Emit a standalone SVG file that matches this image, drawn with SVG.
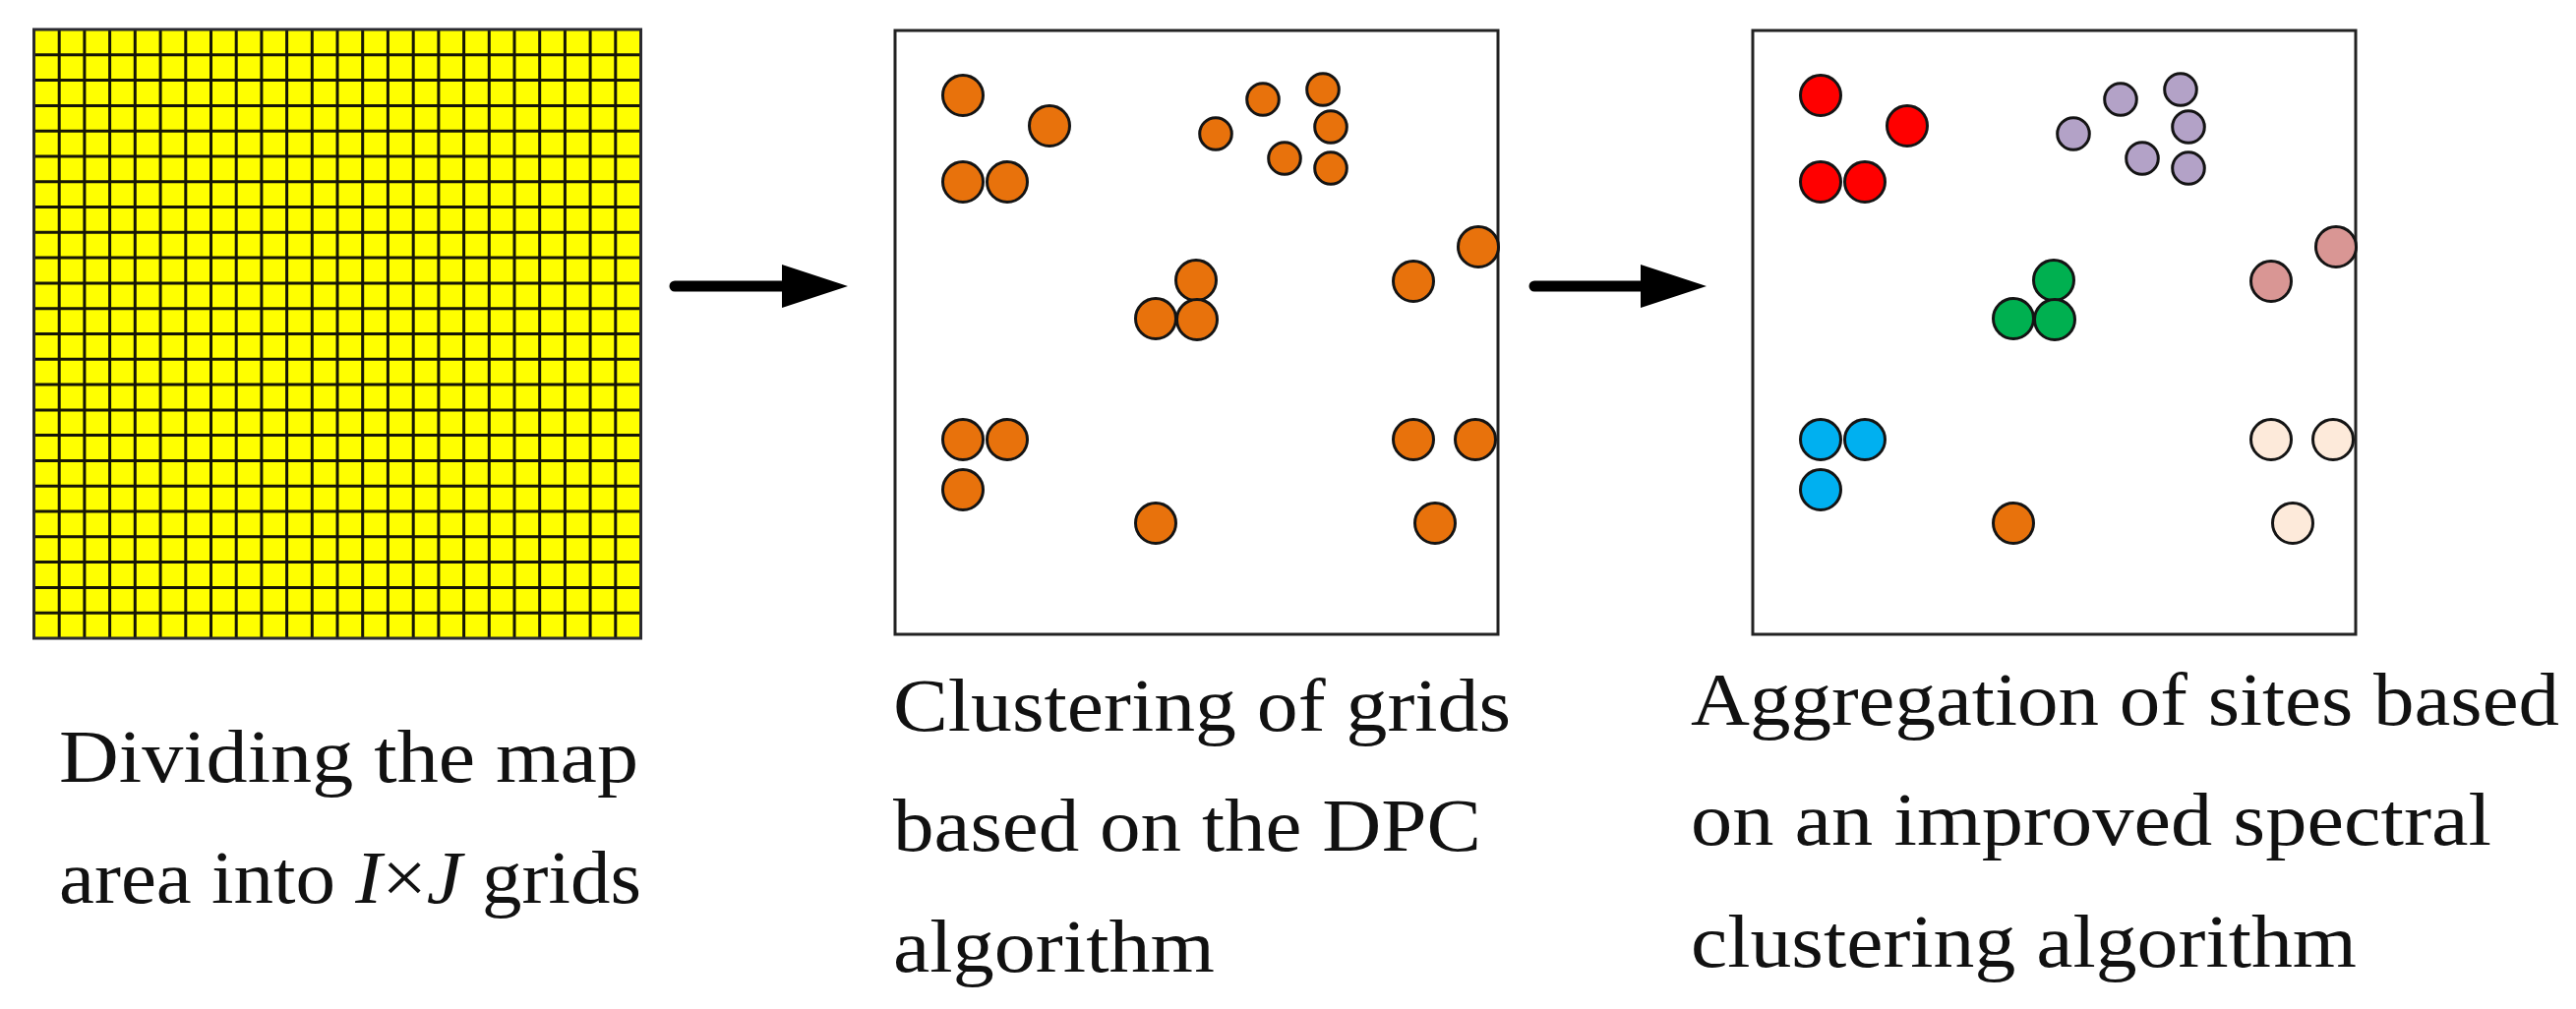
<svg xmlns="http://www.w3.org/2000/svg" width="2619" height="1026" viewBox="0 0 2619 1026">
<style>
.lbl{font-family:"Liberation Serif","Times New Roman",serif;font-size:77px;fill:#111}
.box{fill:#fff;stroke:#222;stroke-width:3}
.c{stroke:#141414;stroke-width:3}
.or{fill:#E8720C}.rd{fill:#FF0000}.pu{fill:#B3A2C7}.pk{fill:#D99694}.gr{fill:#00B050}.bl{fill:#00B0F0}.cr{fill:#FDEADA}
.gl{fill:none;stroke:#161606;stroke-width:3}
.conn{stroke:#000;stroke-width:11;stroke-linecap:round;fill:none}
</style>
<defs>
<marker id="ah" markerUnits="userSpaceOnUse" markerWidth="68" markerHeight="44" refX="0" refY="22" orient="auto">
<path d="M0,0 L67,22 L0,44 Z" fill="#000"/>
</marker>
</defs>
<rect width="2619" height="1026" fill="#fff"/>

<g id="grid-map">
<rect x="34.5" y="30" width="617" height="619" fill="#FFFF00"/>
<path class="gl" d="M60.2 30V649M85.9 30V649M111.6 30V649M137.3 30V649M163.1 30V649M188.8 30V649M214.5 30V649M240.2 30V649M265.9 30V649M291.6 30V649M317.3 30V649M343 30V649M368.7 30V649M394.4 30V649M420.2 30V649M445.9 30V649M471.6 30V649M497.3 30V649M523 30V649M548.7 30V649M574.4 30V649M600.1 30V649M625.8 30V649M34.5 55.8H651.5M34.5 81.6H651.5M34.5 107.4H651.5M34.5 133.2H651.5M34.5 159H651.5M34.5 184.7H651.5M34.5 210.5H651.5M34.5 236.3H651.5M34.5 262.1H651.5M34.5 287.9H651.5M34.5 313.7H651.5M34.5 339.5H651.5M34.5 365.3H651.5M34.5 391.1H651.5M34.5 416.9H651.5M34.5 442.6H651.5M34.5 468.4H651.5M34.5 494.2H651.5M34.5 520H651.5M34.5 545.8H651.5M34.5 571.6H651.5M34.5 597.4H651.5M34.5 623.2H651.5"/>
<rect x="34.5" y="30" width="617" height="619" fill="none" stroke="#2a2a30" stroke-width="3"/>
<text class="lbl" x="60" y="795" textLength="589" lengthAdjust="spacingAndGlyphs">Dividing the map</text>
<text class="lbl" x="60" y="918" textLength="592" lengthAdjust="spacingAndGlyphs">area into <tspan font-style="italic">I</tspan>×<tspan font-style="italic">J</tspan> grids</text>
</g>

<g id="dpc-clustering">
<rect class="box" x="910" y="31" width="613" height="614"/>
<g class="c or">
<circle cx="979" cy="97" r="20.5"/>
<circle cx="1067" cy="128" r="20.5"/>
<circle cx="979" cy="185" r="20.5"/>
<circle cx="1024" cy="185" r="20.5"/>
<circle cx="1236" cy="136" r="16.3"/>
<circle cx="1284" cy="101" r="16.3"/>
<circle cx="1345" cy="91" r="16.3"/>
<circle cx="1353" cy="129" r="16.3"/>
<circle cx="1306" cy="161" r="16.3"/>
<circle cx="1353" cy="171" r="16.3"/>
<circle cx="1503" cy="251" r="20.5"/>
<circle cx="1437" cy="286" r="20.5"/>
<circle cx="1216" cy="285" r="20.5"/>
<circle cx="1175" cy="324" r="20.5"/>
<circle cx="1217" cy="325" r="20.5"/>
<circle cx="979" cy="447" r="20.5"/>
<circle cx="1024" cy="447" r="20.5"/>
<circle cx="979" cy="498" r="20.5"/>
<circle cx="1175" cy="532" r="20.5"/>
<circle cx="1437" cy="447" r="20.5"/>
<circle cx="1500" cy="447" r="20.5"/>
<circle cx="1459" cy="532" r="20.5"/>
</g>
<text class="lbl" x="908" y="743" textLength="628" lengthAdjust="spacingAndGlyphs">Clustering of grids</text>
<text class="lbl" x="908" y="865" textLength="598" lengthAdjust="spacingAndGlyphs">based on the DPC</text>
<text class="lbl" x="908" y="988" textLength="327" lengthAdjust="spacingAndGlyphs">algorithm</text>
</g>

<g id="spectral-aggregation">
<rect class="box" x="1782" y="31" width="613" height="614"/>
<g class="c">
<circle class="rd" cx="1851" cy="97" r="20.5"/>
<circle class="rd" cx="1939" cy="128" r="20.5"/>
<circle class="rd" cx="1851" cy="185" r="20.5"/>
<circle class="rd" cx="1896" cy="185" r="20.5"/>
<circle class="pu" cx="2108" cy="136" r="16.3"/>
<circle class="pu" cx="2156" cy="101" r="16.3"/>
<circle class="pu" cx="2217" cy="91" r="16.3"/>
<circle class="pu" cx="2225" cy="129" r="16.3"/>
<circle class="pu" cx="2178" cy="161" r="16.3"/>
<circle class="pu" cx="2225" cy="171" r="16.3"/>
<circle class="pk" cx="2375" cy="251" r="20.5"/>
<circle class="pk" cx="2309" cy="286" r="20.5"/>
<circle class="gr" cx="2088" cy="285" r="20.5"/>
<circle class="gr" cx="2047" cy="324" r="20.5"/>
<circle class="gr" cx="2089" cy="325" r="20.5"/>
<circle class="bl" cx="1851" cy="447" r="20.5"/>
<circle class="bl" cx="1896" cy="447" r="20.5"/>
<circle class="bl" cx="1851" cy="498" r="20.5"/>
<circle class="or" cx="2047" cy="532" r="20.5"/>
<circle class="cr" cx="2309" cy="447" r="20.5"/>
<circle class="cr" cx="2372" cy="447" r="20.5"/>
<circle class="cr" cx="2331" cy="532" r="20.5"/>
</g>
<text class="lbl" x="1719" y="737" textLength="883" lengthAdjust="spacingAndGlyphs">Aggregation of sites based</text>
<text class="lbl" x="1719" y="859" textLength="814" lengthAdjust="spacingAndGlyphs">on an improved spectral</text>
<text class="lbl" x="1719" y="983" textLength="677" lengthAdjust="spacingAndGlyphs">clustering algorithm</text>
</g>

<g id="connectors">
<line class="conn" x1="686" y1="291" x2="795" y2="291" marker-end="url(#ah)"/>
<line class="conn" x1="1560" y1="291" x2="1668" y2="291" marker-end="url(#ah)"/>
</g>
</svg>
